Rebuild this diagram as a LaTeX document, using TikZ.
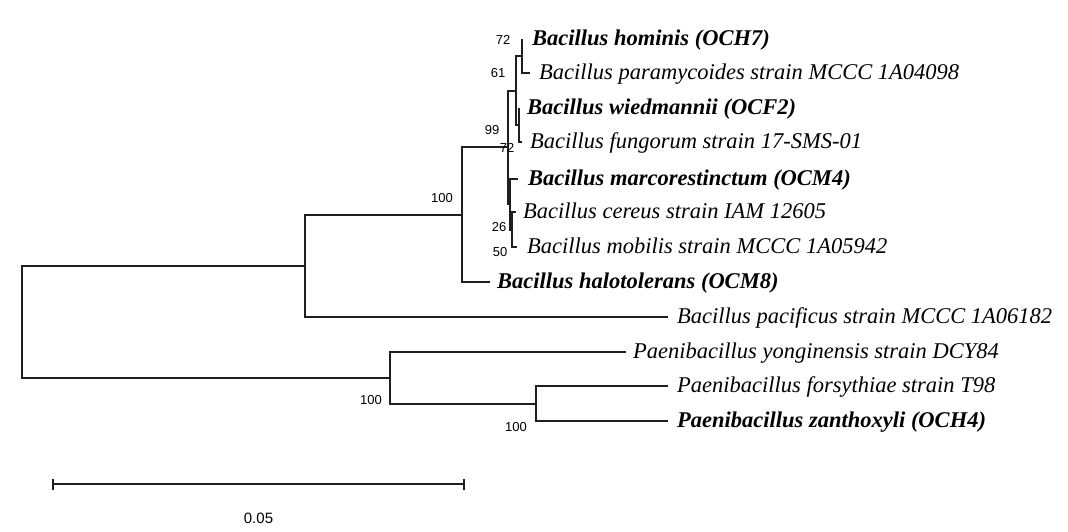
\documentclass[tikz,border=0pt]{standalone}
\usepackage{fontspec}
\setmainfont{Liberation Serif}
\newfontfamily\bootfont{Liberation Sans}
\usepackage{tikz}
\usetikzlibrary{positioning}
\usetikzlibrary{calc}
\usetikzlibrary{arrows.meta}

\begin{document}
\begin{tikzpicture}[x=1pt, y=-1pt,
    branch/.style={line width=2pt, color=black!88},
    leaf/.style={inner sep=0pt, yshift=-3pt, text height=0.66em, text depth=0pt, font=\fontsize{22.5}{27}\selectfont\itshape},
    isolate/.style={leaf, font=\fontsize{22.5}{27}\selectfont\bfseries\itshape},
    boot/.style={inner sep=0pt, font=\fontsize{13}{15}\bootfont}]

    \useasboundingbox (0,0) rectangle (1068,531);

    % internal nodes
    \coordinate (root) at (22,321);
    \coordinate (nA) at (305,265.5);
    \coordinate (nB) at (462,214.5);
    \coordinate (nC) at (508,147);
    \coordinate (nD) at (516,90.5);
    \coordinate (nG) at (522,56);
    \coordinate (nH) at (519,125);
    \coordinate (nF) at (510,204);
    \coordinate (nE) at (512,229.5);
    \coordinate (nP1) at (390,377.5);
    \coordinate (nP2) at (536,403.5);

    % branch tips
    \coordinate (t1) at (522,39);
    \coordinate (t2) at (530,73);
    \coordinate (t3) at (519,108);
    \coordinate (t4) at (522,142);
    \coordinate (t5) at (518,179);
    \coordinate (t6) at (516,212);
    \coordinate (t7) at (517,247);
    \coordinate (t8) at (490,282);
    \coordinate (t9) at (668,317);
    \coordinate (t10) at (626,352);
    \coordinate (t11) at (668,386);
    \coordinate (t12) at (668,421);

    \foreach \ca/\nd/\cb in {nA/root/nP1, nB/nA/t9, nC/nB/t8, nD/nC/nF, nG/nD/nH,
        t1/nG/t2, t3/nH/t4, t5/nF/nE, t6/nE/t7, t10/nP1/nP2, t11/nP2/t12}
        \draw[branch] (\ca) -| (\nd) |- (\cb);

    % taxa
    \node[isolate, right=10pt of t1] (l1) {Bacillus hominis (OCH7)};
    \node[leaf, right=9pt of t2] (l2) {Bacillus paramycoides strain MCCC 1A04098};
    \node[isolate, right=8pt of t3] (l3) {Bacillus wiedmannii (OCF2)};
    \node[leaf, right=8pt of t4] (l4) {Bacillus fungorum strain 17-SMS-01};
    \node[isolate, right=10pt of t5] (l5) {Bacillus marcorestinctum (OCM4)};
    \node[leaf, right=7pt of t6] (l6) {Bacillus cereus strain IAM 12605};
    \node[leaf, right=10pt of t7] (l7) {Bacillus mobilis strain MCCC 1A05942};
    \node[isolate, right=7pt of t8] (l8) {Bacillus halotolerans (OCM8)};
    \node[leaf, right=9pt of t9] (l9) {Bacillus pacificus strain MCCC 1A06182};
    \node[leaf, right=7pt of t10] (l10) {Paenibacillus yonginensis strain DCY84};
    \node[leaf, right=9pt of t11] (l11) {Paenibacillus forsythiae strain T98};
    \node[isolate, right=9pt of t12] (l12) {Paenibacillus zanthoxyli (OCH4)};

    % bootstrap values
    \node[boot] (b1) at (503,40) {72};
    \node[boot] (b2) at (498,73) {61};
    \node[boot] (b3) at (492,130) {99};
    \node[boot] (b4) at (507,148) {72};
    \node[boot] (b5) at (499,227) {26};
    \node[boot] (b6) at (500,252) {50};
    \node[boot] (b7) at (442,198) {100};
    \node[boot] (b8) at (371,400) {100};
    \node[boot] (b9) at (516,427) {100};

    % scale bar
    \coordinate (s0) at (52,484);
    \coordinate (s1) at (465,484);
    \draw[branch, {Bar[width=11pt]}-{Bar[width=11pt]}] (s0) -- (s1);
    \node[inner sep=0pt, font=\fontsize{15}{18}\bootfont] (sl) at ($(s0)!0.5!(s1)+(0,34)$) {0.05};

\end{tikzpicture}
\end{document}
